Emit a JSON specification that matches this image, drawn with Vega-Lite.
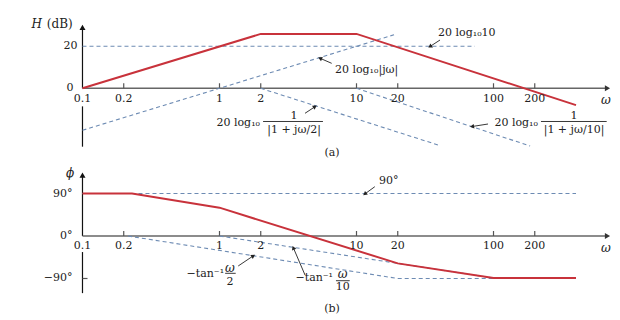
{
  "$schema": "https://vega.github.io/schema/vega-lite/v6.json",
  "width": 620,
  "height": 320,
  "autosize": {"type": "fit", "contains": "padding"},
  "padding": 0,
  "background": "white",
  "config": {
    "view": {"stroke": null},
    "text": {"font": "DejaVu Serif", "fontSize": 11, "color": "#222"}
  },
  "datasets": {
    "mag": [{"w": 0.1, "v": 0}, {"w": 2, "v": 25.9}, {"w": 10, "v": 25.9}, {"w": 400, "v": -8}],
    "magAsym": [
      {"s": "k", "w": 0.1, "v": 20}, {"s": "k", "w": 73, "v": 20},
      {"s": "jw", "w": 0.1, "v": -20}, {"s": "jw", "w": 18.8, "v": 25.5},
      {"s": "p2", "w": 2, "v": 0}, {"s": "p2", "w": 39.4, "v": -27},
      {"s": "p10", "w": 10, "v": 0}, {"s": "p10", "w": 185, "v": -27.5}
    ],
    "phase": [{"w": 0.1, "v": 90}, {"w": 0.23, "v": 90}, {"w": 1, "v": 60}, {"w": 20, "v": -58}, {"w": 100, "v": -89}, {"w": 400, "v": -89}],
    "phaseAsym": [
      {"s": "c", "w": 0.1, "v": 90}, {"s": "c", "w": 400, "v": 90},
      {"s": "a2", "w": 0.215, "v": 0}, {"s": "a2", "w": 20, "v": -90}, {"s": "a2", "w": 100, "v": -90},
      {"s": "a10", "w": 1, "v": 0}, {"s": "a10", "w": 20, "v": -58}, {"s": "a10", "w": 100, "v": -89}, {"s": "a10", "w": 400, "v": -89}
    ],
    "ticksTop": [
      {"w": 0.2, "v": 0, "v2": 2.4}, {"w": 1, "v": 0, "v2": 2.4}, {"w": 2, "v": 0, "v2": 2.4}, {"w": 10, "v": 0, "v2": 2.4},
      {"w": 20, "v": 0, "v2": 2.4}, {"w": 100, "v": 0, "v2": 2.4}, {"w": 200, "v": 0, "v2": 2.4}
    ],
    "ticksBottom": [
      {"w": 0.2, "v": 0, "v2": 10.6}, {"w": 1, "v": 0, "v2": 10.6}, {"w": 2, "v": 0, "v2": 10.6}, {"w": 10, "v": 0, "v2": 10.6},
      {"w": 20, "v": 0, "v2": 10.6}, {"w": 100, "v": 0, "v2": 10.6}, {"w": 200, "v": 0, "v2": 10.6}
    ],
    "labelsTop": [
      {"w": 0.1, "v": -5.3, "t": "0.1"}, {"w": 0.2, "v": -5.3, "t": "0.2"}, {"w": 1, "v": -5.3, "t": "1"}, {"w": 2, "v": -5.3, "t": "2"},
      {"w": 10, "v": -5.3, "t": "10"}, {"w": 20, "v": -5.3, "t": "20"}, {"w": 100, "v": -5.3, "t": "100"}, {"w": 200, "v": -5.3, "t": "200"}
    ],
    "labelsBottom": [
      {"w": 0.1, "v": -21.2, "t": "0.1"}, {"w": 0.2, "v": -21.2, "t": "0.2"}, {"w": 1, "v": -21.2, "t": "1"}, {"w": 2, "v": -21.2, "t": "2"},
      {"w": 10, "v": -21.2, "t": "10"}, {"w": 20, "v": -21.2, "t": "20"}, {"w": 100, "v": -21.2, "t": "100"}, {"w": 200, "v": -21.2, "t": "200"}
    ],
    "arrowsTop": [
      {"id": "a1", "w": 40.7, "v": 23.0}, {"id": "a1", "w": 34.4, "v": 19.9},
      {"id": "a2", "w": 6.59, "v": 11.9}, {"id": "a2", "w": 5.42, "v": 14.3},
      {"id": "a3", "w": 4.21, "v": -11.9}, {"id": "a3", "w": 4.98, "v": -8.76},
      {"id": "a4", "w": 91.2, "v": -17.0}, {"id": "a4", "w": 69.7, "v": -18.2}
    ],
    "arrowsBottom": [
      {"id": "b1", "w": 13.6, "v": 104.4}, {"id": "b1", "w": 11.5, "v": 89},
      {"id": "b2", "w": 1.37, "v": -63.5}, {"id": "b2", "w": 1.765, "v": -42},
      {"id": "b3", "w": 4.21, "v": -82.6}, {"id": "b3", "w": 3.46, "v": -25}
    ]
  },
  "resolve": {"scale": {"y": "independent"}},
  "layer": [
    {
      "encoding": {
        "x": {"field": "w", "type": "quantitative", "scale": {"type": "log", "domain": [0.025, 838], "nice": false}, "axis": null},
        "y": {"field": "v", "type": "quantitative", "scale": {"domain": [-110.33, 42.05], "nice": false, "zero": false}, "axis": null}
      },
      "layer": [
        {"data": {"values": [{"w": 0.1, "v": 0, "v2": 28}, {"w": 0.1, "v": -27.8, "v2": -8.6}]}, "mark": {"type": "rule", "color": "#111", "strokeWidth": 1.2}, "encoding": {"y2": {"field": "v2"}}},
        {"data": {"values": [{"w": 0.1, "v": 29}]}, "mark": {"type": "point", "shape": "triangle-up", "filled": true, "size": 36, "color": "#111", "opacity": 1}},
        {"data": {"values": [{"w": 0.1, "w2": 679, "v": 0}]}, "mark": {"type": "rule", "color": "#666", "strokeWidth": 1.5}, "encoding": {"x2": {"field": "w2"}}},
        {"data": {"values": [{"w": 679, "v": 0}]}, "mark": {"type": "point", "shape": "triangle-right", "filled": true, "size": 36, "color": "#333", "opacity": 1}},
        {"data": {"name": "ticksTop"}, "mark": {"type": "rule", "color": "#555", "strokeWidth": 1.2}, "encoding": {"y2": {"field": "v2"}}},
        {"data": {"name": "magAsym"}, "mark": {"type": "line", "color": "#6d8bb3", "strokeWidth": 1.1, "strokeDash": [4, 3]}, "encoding": {"detail": {"field": "s"}}},
        {"data": {"name": "mag"}, "mark": {"type": "line", "color": "#c8323b", "strokeWidth": 2}},
        {"data": {"name": "labelsTop"}, "mark": {"type": "text", "align": "center", "baseline": "middle"}, "encoding": {"text": {"field": "t"}}},
        {"data": {"values": [{"w": 0.0848, "v": 30.5, "t": "(dB)"}]}, "mark": {"type": "text", "align": "right", "baseline": "middle", "fontSize": 12}, "encoding": {"text": {"field": "t"}}},
        {"data": {"values": [{"w": 0.0506, "v": 30.5, "t": "H"}]}, "mark": {"type": "text", "align": "right", "baseline": "middle", "fontSize": 12, "fontStyle": "italic"}, "encoding": {"text": {"field": "t"}}},
        {"data": {"values": [
          {"w": 0.092, "v": 20, "t": "20"},
          {"w": 0.086, "v": 0, "t": "0"},
          {"w": 1.975, "v": -16.3, "t": "20 log₁₀"},
          {"w": 211, "v": -16.3, "t": "20 log₁₀"}
        ]}, "mark": {"type": "text", "align": "right", "baseline": "middle"}, "encoding": {"text": {"field": "t"}}},
        {"data": {"values": [
          {"w": 39.4, "v": 26.3, "t": "20 log₁₀10"},
          {"w": 6.96, "v": 8.7, "t": "20 log₁₀|jω|"}
        ]}, "mark": {"type": "text", "align": "left", "baseline": "middle"}, "encoding": {"text": {"field": "t"}}},
        {"data": {"values": [
          {"w": 3.5, "v": -13.2, "t": "1"},
          {"w": 3.5, "v": -20.0, "t": "|1 + jω/2|"},
          {"w": 387, "v": -13.2, "t": "1"},
          {"w": 387, "v": -20.0, "t": "|1 + jω/10|"},
          {"w": 6.62, "v": -30.8, "t": "(a)"}
        ]}, "mark": {"type": "text", "align": "center", "baseline": "middle"}, "encoding": {"text": {"field": "t"}}},
        {"data": {"values": [{"w": 662, "v": -5.4, "t": "ω"}]}, "mark": {"type": "text", "align": "center", "baseline": "middle", "fontStyle": "italic", "fontSize": 12}, "encoding": {"text": {"field": "t"}}},
        {"data": {"values": [
          {"w": 2.08, "w2": 5.69, "v": -15.8},
          {"w": 222, "w2": 670, "v": -15.8}
        ]}, "mark": {"type": "rule", "color": "#222", "strokeWidth": 0.9}, "encoding": {"x2": {"field": "w2"}}},
        {"data": {"name": "arrowsTop"}, "mark": {"type": "line", "color": "#222", "strokeWidth": 0.9}, "encoding": {"detail": {"field": "id"}}},
        {"data": {"values": [{"w": 34.4, "v": 19.9}]}, "mark": {"type": "point", "shape": "triangle-up", "filled": true, "size": 22, "color": "#222", "opacity": 1, "angle": 237}},
        {"data": {"values": [{"w": 5.42, "v": 14.3}]}, "mark": {"type": "point", "shape": "triangle-up", "filled": true, "size": 22, "color": "#222", "opacity": 1, "angle": 293}},
        {"data": {"values": [{"w": 4.98, "v": -8.76}]}, "mark": {"type": "point", "shape": "triangle-up", "filled": true, "size": 22, "color": "#222", "opacity": 1, "angle": 57}},
        {"data": {"values": [{"w": 69.7, "v": -18.2}]}, "mark": {"type": "point", "shape": "triangle-up", "filled": true, "size": 22, "color": "#222", "opacity": 1, "angle": 261}}
      ]
    },
    {
      "encoding": {
        "x": {"field": "w", "type": "quantitative", "scale": {"type": "log", "domain": [0.025, 838], "nice": false}, "axis": null},
        "y": {"field": "v", "type": "quantitative", "scale": {"domain": [-177.9, 499.8], "nice": false, "zero": false}, "axis": null}
      },
      "layer": [
        {"data": {"values": [{"w": 0.1, "v": 0, "v2": 127}, {"w": 0.1, "v": -121, "v2": -34}]}, "mark": {"type": "rule", "color": "#111", "strokeWidth": 1.2}, "encoding": {"y2": {"field": "v2"}}},
        {"data": {"values": [{"w": 0.1, "v": 129}]}, "mark": {"type": "point", "shape": "triangle-up", "filled": true, "size": 36, "color": "#111", "opacity": 1}},
        {"data": {"values": [{"w": 0.1, "w2": 679, "v": 0}]}, "mark": {"type": "rule", "color": "#666", "strokeWidth": 1.5}, "encoding": {"x2": {"field": "w2"}}},
        {"data": {"values": [{"w": 679, "v": 0}]}, "mark": {"type": "point", "shape": "triangle-right", "filled": true, "size": 36, "color": "#333", "opacity": 1}},
        {"data": {"name": "ticksBottom"}, "mark": {"type": "rule", "color": "#555", "strokeWidth": 1.2}, "encoding": {"y2": {"field": "v2"}}},
        {"data": {"values": [{"w": 0.1, "w2": 0.1088, "v": -90}]}, "mark": {"type": "rule", "color": "#555", "strokeWidth": 1.2}, "encoding": {"x2": {"field": "w2"}}},
        {"data": {"name": "phaseAsym"}, "mark": {"type": "line", "color": "#6d8bb3", "strokeWidth": 1.1, "strokeDash": [4, 3]}, "encoding": {"detail": {"field": "s"}}},
        {"data": {"name": "phase"}, "mark": {"type": "line", "color": "#c8323b", "strokeWidth": 2}},
        {"data": {"name": "labelsBottom"}, "mark": {"type": "text", "align": "center", "baseline": "middle"}, "encoding": {"text": {"field": "t"}}},
        {"data": {"values": [
          {"w": 0.0845, "v": 90, "t": "90°"},
          {"w": 0.0845, "v": 0, "t": "0°"},
          {"w": 0.0845, "v": -90, "t": "−90°"},
          {"w": 1.08, "v": -81, "t": "−tan⁻¹"},
          {"w": 6.74, "v": -89.6, "t": "−tan⁻¹"}
        ]}, "mark": {"type": "text", "align": "right", "baseline": "middle"}, "encoding": {"text": {"field": "t"}}},
        {"data": {"values": [{"w": 14.6, "v": 116.5, "t": "90°"}]}, "mark": {"type": "text", "align": "left", "baseline": "middle"}, "encoding": {"text": {"field": "t"}}},
        {"data": {"values": [
          {"w": 1.193, "v": -96.8, "t": "2"},
          {"w": 7.93, "v": -107.4, "t": "10"},
          {"w": 6.62, "v": -155.2, "t": "(b)"}
        ]}, "mark": {"type": "text", "align": "center", "baseline": "middle"}, "encoding": {"text": {"field": "t"}}},
        {"data": {"values": [
          {"w": 0.0811, "v": 132.8, "t": "ϕ"},
          {"w": 662, "v": -26, "t": "ω"},
          {"w": 1.193, "v": -68.4, "t": "ω"},
          {"w": 7.93, "v": -80.5, "t": "ω"}
        ]}, "mark": {"type": "text", "align": "center", "baseline": "middle", "fontStyle": "italic", "fontSize": 12}, "encoding": {"text": {"field": "t"}}},
        {"data": {"values": [
          {"w": 1.1, "w2": 1.313, "v": -79},
          {"w": 7.08, "w2": 8.92, "v": -94.7}
        ]}, "mark": {"type": "rule", "color": "#222", "strokeWidth": 0.9}, "encoding": {"x2": {"field": "w2"}}},
        {"data": {"name": "arrowsBottom"}, "mark": {"type": "line", "color": "#222", "strokeWidth": 0.9}, "encoding": {"detail": {"field": "id"}}},
        {"data": {"values": [{"w": 11.5, "v": 89}]}, "mark": {"type": "point", "shape": "triangle-up", "filled": true, "size": 22, "color": "#222", "opacity": 1, "angle": 233}},
        {"data": {"values": [{"w": 1.765, "v": -42}]}, "mark": {"type": "point", "shape": "triangle-up", "filled": true, "size": 22, "color": "#222", "opacity": 1, "angle": 58}},
        {"data": {"values": [{"w": 3.46, "v": -25}]}, "mark": {"type": "point", "shape": "triangle-up", "filled": true, "size": 22, "color": "#222", "opacity": 1, "angle": 336}}
      ]
    }
  ]
}
